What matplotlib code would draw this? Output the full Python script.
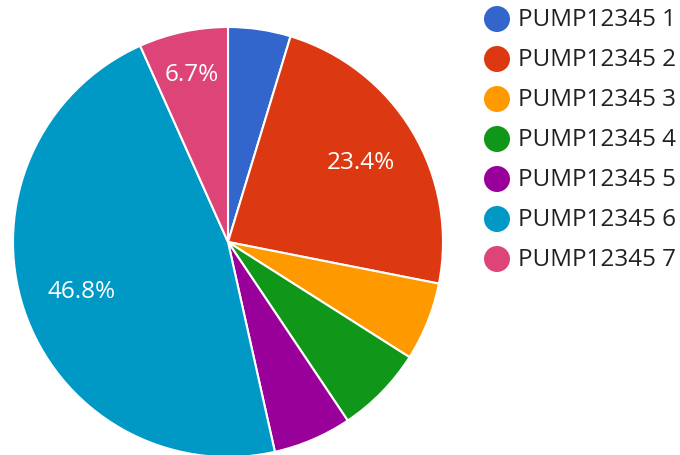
import numpy as np
import matplotlib
matplotlib.use("Agg")
import matplotlib.pyplot as plt

plt.rcParams['font.family'] = ['Open Sans', 'DejaVu Sans']

labels = ["PUMP12345 1", "PUMP12345 2", "PUMP12345 3", "PUMP12345 4",
          "PUMP12345 5", "PUMP12345 6", "PUMP12345 7"]
values = [4.7, 23.4, 5.9, 6.6, 5.9, 46.8, 6.7]
colors = ["#3366cc", "#dc3912", "#ff9900", "#109618", "#990099", "#0099c6", "#dd4477"]

W, H = 680, 456
fig = plt.figure(figsize=(W / 100, H / 100), dpi=100)

# pie axes: center (228, 243) px, radius 215 px
cx, cy, r = 228, 243, 215
ax = fig.add_axes([(cx - r) / W, (H - cy - r) / H, 2 * r / W, 2 * r / H])


def pct(p):
    return f"{p:.1f}%" if p >= 6.65 else ""


wedges, texts, autotexts = ax.pie(
    values, colors=colors, startangle=90, counterclock=False,
    autopct=pct, pctdistance=0.72, radius=1,
    wedgeprops=dict(edgecolor="white", linewidth=1.5),
    textprops=dict(color="white", fontsize=17.5))

# narrow slice label sits further out
w = wedges[6]
mid = np.deg2rad((w.theta1 + w.theta2) / 2)
autotexts[6].set_position((0.80 * np.cos(mid), 0.80 * np.sin(mid)))

ax.set_xlim(-1, 1)
ax.set_ylim(-1, 1)
ax.set_aspect("equal")
ax.axis("off")

# legend drawn by hand
lx, ly0, dy = 497, 20, 40
for i, (lab, col) in enumerate(zip(labels, colors)):
    y = ly0 + i * dy
    fig.patches.append(matplotlib.patches.Ellipse(
        (lx / W, 1 - y / H), 26 / W, 26 / H, transform=fig.transFigure,
        facecolor=col, edgecolor="none"))
    fig.text(518 / W, 1 - y / H, lab, fontsize=17.5, color="#222222",
             ha="left", va="center")

fig.savefig("out.png", dpi=100)
